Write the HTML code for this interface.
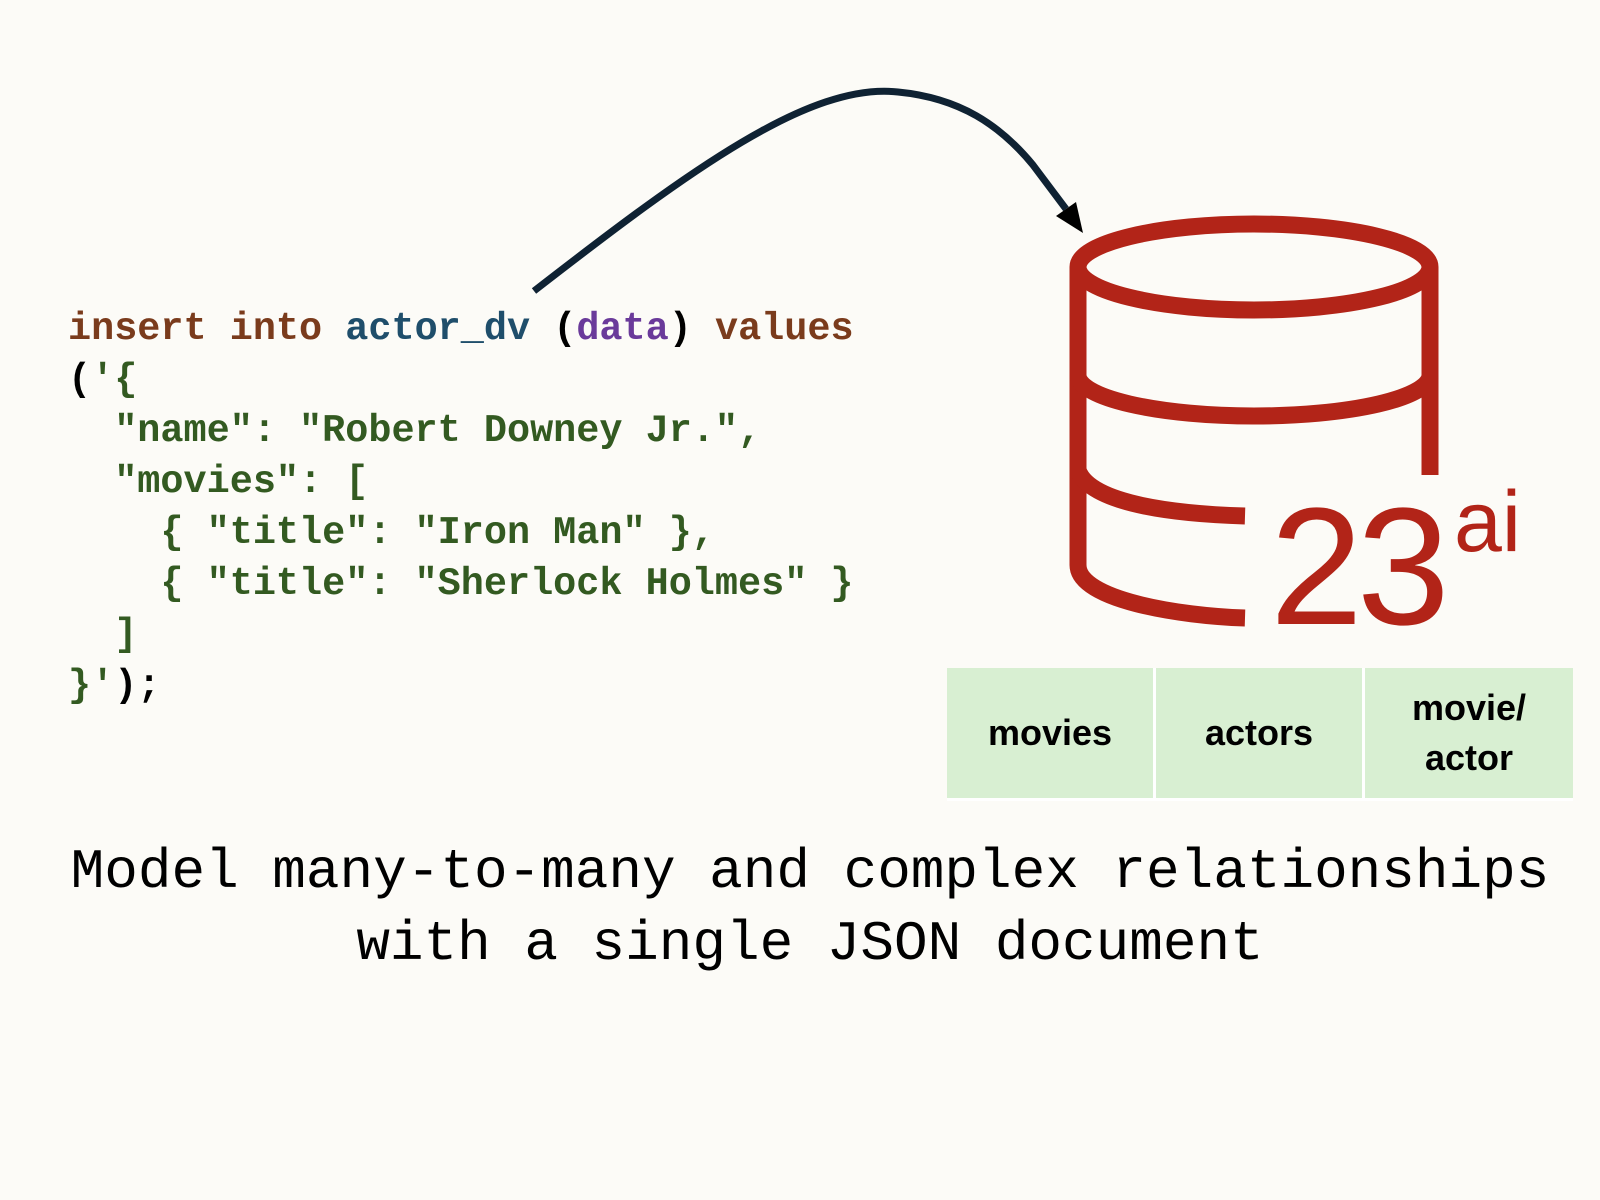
<!DOCTYPE html>
<html><head><meta charset="utf-8"><style>
html,body{margin:0;padding:0;background:#fcfbf7;}
body{width:1600px;height:1200px;position:relative;overflow:hidden;}
.code{position:absolute;left:68px;top:304px;font-family:"Liberation Mono",monospace;font-weight:bold;font-size:38.5px;line-height:51px;white-space:pre;color:#335a21;letter-spacing:0px;}
.k{color:#7a3b1c}.t{color:#1f4e6b}.p{color:#6a3a9a}.b{color:#000}
.cap{position:absolute;left:10px;width:1600px;top:836px;text-align:center;font-family:"Liberation Mono",monospace;font-size:56px;line-height:72px;color:#000;}
.tbl{position:absolute;left:947px;top:668px;width:626px;height:133px;background:#fff;}
.cell{position:absolute;top:0;height:130px;background:#d8efd2;display:flex;align-items:center;justify-content:center;text-align:center;font-family:"Liberation Sans",sans-serif;font-weight:bold;font-size:36px;line-height:50px;color:#000;}
</style></head><body>
<svg width="1600" height="1200" style="position:absolute;left:0;top:0">
<path d="M534,291 C690,170 810,82 898,92 C960,98 1000,125 1033,165 L1066,209" fill="none" stroke="#0f2233" stroke-width="7"/>
<polygon points="1083,233 1056,216 1076,202" fill="#000"/>
<g fill="none" stroke="#b22418" stroke-width="17">
<ellipse cx="1254" cy="267" rx="176" ry="43"/>
<path d="M1078,267 V565 C1078,600 1180,616 1245,618"/>
<path d="M1430,267 V475"/>
<path d="M1078,375 A176,41 0 0 0 1430,375"/>
<path d="M1078,470 C1090,505 1180,514 1245,516"/>
</g>
<text x="1270" y="624" font-family="Liberation Sans,sans-serif" font-size="167" fill="#b22418" letter-spacing="-6">23</text>
<text x="1454" y="551" font-family="Liberation Sans,sans-serif" font-size="86" fill="#b22418">ai</text>
</svg>
<div class="code"><span class="k">insert into</span> <span class="t">actor_dv</span> <span class="b">(</span><span class="p">data</span><span class="b">)</span> <span class="k">values</span>
<span class="b">(</span>'{
  "name": "Robert Downey Jr.",
  "movies": [
    { "title": "Iron Man" },
    { "title": "Sherlock Holmes" }
  ]
}'<span class="b">);</span></div>
<div class="tbl">
<div class="cell" style="left:0;width:206px">movies</div>
<div class="cell" style="left:209px;width:206px">actors</div>
<div class="cell" style="left:418px;width:208px">movie/<br>actor</div>
</div>
<div class="cap">Model many-to-many and complex relationships<br>with a single JSON document</div>
</body></html>
